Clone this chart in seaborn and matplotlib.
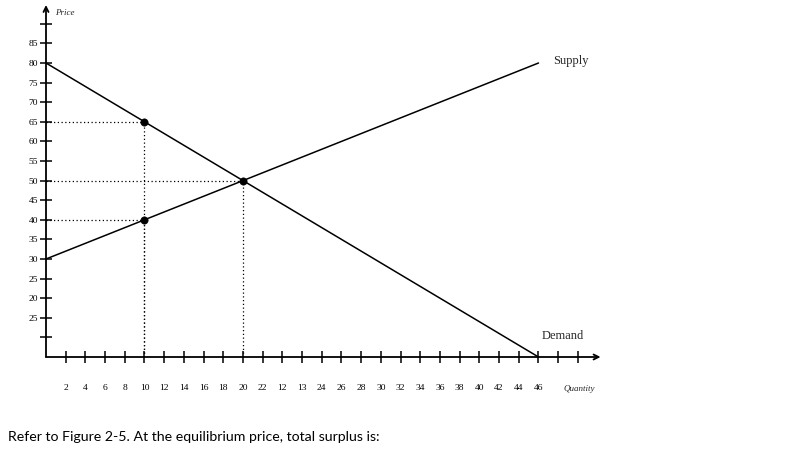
import matplotlib
matplotlib.use("Agg")
import matplotlib.pyplot as plt
import seaborn as sns
import pandas as pd

# ---- data ----
demand_q = [0, 20, 50]
demand_p = [80, 50, 5]
supply_q = [0, 20, 50]
supply_p = [30, 50, 80]
point_q = [10, 10, 20]
point_p = [65, 40, 50]

x_tick_pos = list(range(2, 56, 2))
x_tick_labels = ["2", "4", "6", "8", "10", "12", "14", "16", "18", "20", "22",
                 "12", "13", "24", "26", "28", "30", "32", "34", "36", "38",
                 "40", "42", "44", "46", "", ""]
y_tick_pos = list(range(10, 95, 5))
y_tick_labels = ["", "25", "20", "25", "30", "35", "40", "45", "50", "55",
                 "60", "65", "70", "75", "80", "85", ""]

sns.set_style("white")
plt.rcParams["font.family"] = ["Liberation Serif", "DejaVu Serif"]

W, H = 800, 466
fig = plt.figure(figsize=(W / 100, H / 100), dpi=100)
px_x = 9.85   # pixels per quantity unit
px_y = 3.92   # pixels per price unit
x0, y0 = 46, 357
xmax, ymax = 57.0, 95.5
ymin = 5
ax = fig.add_axes([x0 / W, (H - y0) / H, xmax * px_x / W, (ymax - ymin) * px_y / H])

lines = pd.concat([
    pd.DataFrame({"Quantity": demand_q, "Price": demand_p, "curve": "Demand"}),
    pd.DataFrame({"Quantity": supply_q, "Price": supply_p, "curve": "Supply"}),
])
sns.lineplot(data=lines, x="Quantity", y="Price", units="curve", estimator=None,
             color="black", linewidth=1.1, sort=False, ax=ax, legend=False)
for l in ax.lines:
    l.set_clip_on(False)

pts = pd.DataFrame({"q": point_q, "p": point_p})
# dotted guides
for q, p in zip(point_q, point_p):
    ax.plot([0, q], [p, p], color="black", linestyle=(0, (1, 2)), linewidth=0.9)
    ax.plot([q, q], [ymin, p], color="black", linestyle=(0, (1, 2)), linewidth=0.9)
sns.scatterplot(data=pts, x="q", y="p", color="black", s=28, zorder=5, ax=ax,
                edgecolor="black", clip_on=False)

ax.set_xlim(0, xmax)
ax.set_ylim(ymin, ymax)
for s in ax.spines.values():
    s.set_visible(False)

# axes with arrows
ax.annotate("", xy=(0, 94.8), xytext=(0, ymin),
            arrowprops=dict(arrowstyle="->", lw=1.3, color="black", shrinkA=0, shrinkB=0,
                            mutation_scale=9), annotation_clip=False)
ax.annotate("", xy=(56.3, ymin), xytext=(0, ymin),
            arrowprops=dict(arrowstyle="->", lw=1.3, color="black", shrinkA=0, shrinkB=0,
                            mutation_scale=9), annotation_clip=False)

ax.set_xticks(x_tick_pos)
ax.set_xticklabels(x_tick_labels)
ax.set_yticks(y_tick_pos)
ax.set_yticklabels(y_tick_labels)
ax.tick_params(axis="both", direction="inout", length=8, width=1.1, colors="black",
               labelsize=6.8, left=True, bottom=True)
ax.tick_params(axis="x", pad=15.5)
ax.tick_params(axis="y", pad=1.5)
ax.set_xlabel("")
ax.set_ylabel("")

ax.text(0.9, 92.8, "Price", fontsize=6.5, style="italic", va="center", ha="left", clip_on=False)
ax.text(52.5, -3.1, "Quantity", fontsize=6.5, style="italic", va="center", ha="left", clip_on=False)
ax.text(51.5, 80.5, "Supply", fontsize=9, va="center", ha="left")
ax.text(50.3, 10.3, "Demand", fontsize=9, va="center", ha="left")

fig.text(8 / W, 1 - 437 / H, "Refer to Figure 2-5. At the equilibrium price, total surplus is:",
         fontsize=10.2, family=["Lato", "DejaVu Sans"], color="black", va="center", ha="left")

fig.savefig("out.png", dpi=100, facecolor="white")
